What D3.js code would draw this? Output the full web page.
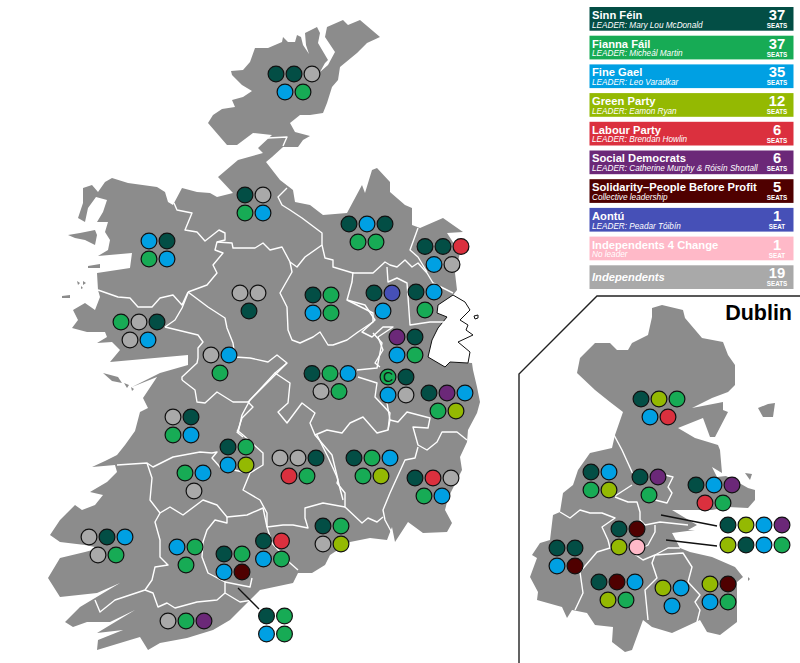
<!DOCTYPE html>
<html>
<head>
<meta charset="utf-8">
<script src="https://cdn.jsdelivr.net/npm/d3@7"></script>
<style>
html, body { margin: 0; padding: 0; background: #fff; }
text { font-family: "Liberation Sans", Arial, sans-serif; }
</style>
</head>
<body>
<div id="chart"></div>
<script>
// parties
const partyKeys = ['SF', 'FF', 'FG', 'GP', 'LAB', 'SD', 'PBP', 'AON', 'I4C', 'IND'];
const partyNames = ['Sinn Féin', 'Fianna Fáil', 'Fine Gael', 'Green Party', 'Labour Party', 'Social Democrats',
    'Solidarity–People Before Profit', 'Aontú', 'Independents 4 Change', 'Independents'];
const partyLeaders = ['LEADER: Mary Lou McDonald', 'LEADER: Micheál Martin', 'LEADER: Leo Varadkar', 'LEADER: Eamon Ryan',
    'LEADER: Brendan Howlin', 'LEADER: Catherine Murphy & Róisín Shortall', 'Collective leadership',
    'LEADER: Peadar Tóibín', 'No leader', ''];
const partySeats = [37, 37, 35, 12, 6, 6, 5, 1, 1, 19];
const partyColors = ['#034e45', '#17ab55', '#00a0e3', '#94b902', '#db303e', '#6b2878', '#4f0000', '#4650b7', '#ffb9c8', '#a9a9a9'];

// seats won per constituency
const constituencyNames = ['Donegal', 'Sligo-Leitrim', 'Cavan-Monaghan', 'Louth', 'Meath West', 'Meath East', 'Longford-Westmeath',
    'Kildare North', 'Kildare South', 'Laois-Offaly', 'Wicklow', 'Carlow-Kilkenny', 'Wexford', 'Waterford', 'Tipperary',
    'Galway West', 'Mayo', 'Roscommon-Galway', 'Galway East', 'Clare', 'Limerick City', 'Limerick County', 'Kerry',
    'Cork North-West', 'Cork North-Central', 'Cork East', 'Cork South-Central', 'Cork South-West',
    'Dublin Fingal', 'Dublin West', 'Dublin North-West', 'Dublin Bay North', 'Dublin Central', 'Dublin Bay South',
    'Dublin South-Central', 'Dublin Mid-West', 'Dublin South-West', 'Dublin Rathdown', 'Dun Laoghaire'];
const constituencySeats = [
    ['SF', 'SF', 'IND', 'FG', 'FF'], ['SF', 'IND', 'FF', 'FG'], ['SF', 'FG', 'SF', 'FF', 'FF'], ['SF', 'SF', 'LAB', 'FG', 'IND'],
    ['SF', 'AON', 'FG'], ['SF', 'FG', 'FF'], ['SF', 'FF', 'FG', 'FF'], ['SD', 'SF', 'FG', 'FF'], ['FF', 'SF', 'FG', 'IND'],
    ['SF', 'FF', 'FG', 'IND', 'FF'], ['SF', 'SD', 'FG', 'FF', 'GP'], ['SF', 'FF', 'FG', 'FF', 'GP'], ['SF', 'LAB', 'IND', 'FF', 'FG'],
    ['SF', 'FF', 'IND', 'GP'], ['IND', 'IND', 'SF', 'LAB', 'FF'], ['FF', 'IND', 'SF', 'IND', 'FG'], ['FG', 'SF', 'FF', 'FG'],
    ['IND', 'IND', 'SF'], ['IND', 'FG', 'FF'], ['IND', 'SF', 'FF', 'FG'], ['SF', 'FF', 'FG', 'GP'], ['FF', 'FG', 'IND'],
    ['IND', 'SF', 'FG', 'IND', 'FF'], ['FG', 'FF', 'FF'], ['SF', 'FF', 'FG', 'PBP'], ['SF', 'LAB', 'FG', 'FF'], ['SF', 'FF', 'FG', 'FF'],
    ['IND', 'FF', 'SD'],
    ['SF', 'GP', 'FF', 'FG', 'LAB'], ['SF', 'FG', 'FF', 'GP'], ['SF', 'SD', 'FF'], ['SF', 'FG', 'SD', 'LAB', 'FF'],
    ['SF', 'GP', 'FG', 'SD'], ['GP', 'SF', 'FG', 'FF'], ['SF', 'PBP', 'GP', 'I4C'], ['SF', 'SF', 'FG', 'PBP'],
    ['SF', 'PBP', 'FG', 'GP', 'FF'], ['GP', 'FG', 'FG'], ['GP', 'PBP', 'FG', 'FF']
];
// seats in the first row, where it is not the usual split
const singleRow = ['Dublin Central', 'Dublin Bay South', 'Cork South-West'];
const ceannComhairle = { constituency: 'Kildare South', seat: 0, mark: 'C' };

// map geometry
const groupCentres = [
    [294, 83], [254, 204], [367, 233], [443, 255.5], [383, 302], [425, 301], [322, 304], [406, 346], [397, 386], [330, 382.5],
    [447, 402], [372, 467], [433, 487], [332, 535], [298, 467], [139, 331], [158, 250], [249, 302], [220, 364], [182, 426],
    [237, 456], [194, 482], [107, 546], [186, 556], [233, 563], [272.5, 550], [275.5, 625], [186, 621],
    [659, 408], [600, 481], [649, 486], [714, 494], [755, 525], [755, 545], [628, 538], [566, 557], [617, 591], [672, 597], [719, 593]
];

const irelandOutline = [
    [208,123],[213,115],[222,109],[235,107],[232,100],[243,97],[252,91],[242,85],[232,75],[231,71],[243,70],[250,62],[255,48],[268,48],
    [282,42],[283,37],[288,42],[295,42],[297,35],[301,37],[303,45],[309,54],[306,45],[305,33],[317,27],[320,33],[318,43],[328,60],[325,63],[320,72],
    [328,65],[335,52],[325,37],[327,27],[343,20],[348,25],[360,20],[380,37],[367,43],[357,53],[340,67],[338,80],[332,87],[327,103],
    [323,113],[310,115],[300,115],[290,123],[295,132],[310,136],[303,140],[298,147],[283,147],[272,157],[266,162],[280,180],[293,190],
    [295,202],[310,205],[323,215],[347,213],[362,185],[365,193],[372,170],[377,168],[390,182],[390,192],[405,205],[412,208],[412,225],
    [420,228],[443,218],[463,232],[447,233],[460,253],[455,273],[457,290],[453,295],[445,330],[450,362],[472,363],[473,370],[477,387],
    [480,402],[477,413],[468,430],[467,442],[460,457],[462,470],[448,498],[445,510],[452,523],[447,532],[423,533],[408,522],[395,542],
    [392,527],[387,540],[370,538],[350,542],[330,555],[325,565],[312,573],[298,573],[293,583],[260,590],[253,597],[230,620],[213,630],
    [187,638],[160,643],[148,650],[140,637],[130,640],[97,650],[98,640],[123,630],[97,633],[135,610],[110,622],[87,622],[73,627],[65,622],
    [80,607],[120,583],[97,593],[60,597],[48,578],[60,558],[85,552],[100,548],[85,545],[60,542],[50,535],[60,520],[67,513],[75,505],[82,510],
    [95,505],[103,495],[90,492],[107,482],[117,472],[115,465],[92,467],[105,461],[117,455],[125,445],[135,431],[140,412],[148,408],[143,398],[157,377],
    [132,387],[160,373],[188,365],[188,355],[110,362],[120,350],[112,342],[97,343],[107,337],[105,332],[87,332],[72,328],[78,320],[73,310],
    [85,303],[95,310],[100,297],[98,290],[97,273],[130,268],[132,253],[98,256],[108,250],[110,240],[105,232],[108,222],[97,222],[103,212],
    [107,200],[96,197],[88,208],[85,222],[78,218],[83,203],[83,188],[92,185],[98,192],[105,182],[112,178],[128,183],[157,187],[165,192],
    [168,202],[173,205],[182,188],[197,192],[210,193],[217,197],[233,193],[218,177],[238,160],[263,153],[258,148],[272,135],[253,133],
    [237,145],[227,145]
];
const irelandIslands = [
    [[68,235],[80,233],[95,230],[97,235],[95,245],[85,240],[75,238]],
    [[77,281],[80,283],[78,285]], [[83,281],[86,283],[83,285]], [[81,286],[83,288],[81,289]],
    [[62,296],[70,295],[70,298],[62,298]], [[88,266],[100,264],[100,268],[88,268]],
    [[103,373],[118,377],[122,383],[112,381]], [[124,383],[129,385],[127,388]], [[131,387],[134,389],[132,391]]
];
const dublinHole = [
    [453,295],[465,302],[470,310],[460,320],[468,325],[466,330],[473,335],[458,342],[470,352],[468,363],[450,362],[445,367],[428,357],
    [432,340],[438,328],[447,317],[437,313],[438,305]
];
const dublinIslet = [[474,316],[478,315],[478,318],[475,319]];

const dublinOutline = [
    [652,308],[662,305],[683,310],[685,318],[702,338],[723,342],[728,355],[735,365],[735,385],[728,392],[712,398],[692,408],[718,403],
    [723,402],[723,410],[728,412],[715,437],[710,437],[703,418],[678,428],[695,438],[718,445],[720,450],[722,473],[712,467],[717,477],
    [726,476],[734,480],[748,488],[755,490],[755,500],[748,508],[728,507],[712,510],[672,510],[697,525],[688,530],[695,530],[672,533],[680,548],
    [690,552],[712,557],[735,567],[743,577],[737,582],[737,622],[720,635],[707,632],[700,620],[685,627],[672,633],[652,627],[643,620],
    [632,650],[625,652],[612,642],[613,627],[595,625],[587,613],[572,610],[567,618],[562,607],[537,600],[538,592],[530,577],[537,558],
    [532,555],[540,543],[550,540],[553,515],[560,512],[563,493],[573,485],[578,470],[590,453],[612,448],[615,435],[623,412],[610,402],
    [595,390],[577,373],[580,358],[595,343],[610,343],[617,350],[628,350],[632,343],[648,335],[652,317]
];
const dublinIslands = [
    [[758,408],[768,404],[775,403],[773,417],[763,417]],
    [[745,473],[752,474],[750,480]],
    [[748,577],[750,579],[748,581]]
];

const boundaries = [
    [[268,138],[287,137],[283,146]],
    [[174,203],[177,210],[192,213],[185,230],[197,232],[205,241],[219,230],[225,233],[225,240],[217,242],[215,250],[223,253],[213,265],[217,273],[207,285],[188,292]],
    [[98,290],[118,297],[130,298],[138,307],[152,307],[160,298],[173,295],[182,305],[188,292]],
    [[188,292],[208,307],[225,318],[227,328],[233,343],[235,357],[250,358],[268,362],[277,355],[287,363],[277,373],[270,380],[248,402]],
    [[217,242],[232,243],[233,248],[255,248],[263,243],[270,250],[282,247],[290,262],[297,267],[305,257],[322,245],[322,233],[302,218],[290,210],[282,205],[278,197],[287,188]],
    [[290,262],[292,272],[280,293],[287,307],[288,330],[292,340],[300,343],[313,337],[320,332],[328,345],[333,345],[347,340],[358,332],[373,322],[373,313],[347,300],[352,282],[353,272]],
    [[322,245],[325,258],[333,260],[333,267],[353,273],[373,273],[385,262],[390,265],[397,267],[405,260],[412,267],[418,263],[427,273],[433,283],[453,293]],
    [[418,228],[410,250],[418,257],[427,272]],
    [[387,267],[388,282],[397,278],[407,283],[410,325],[430,322],[445,322]],
    [[347,300],[365,305],[375,320],[362,332],[372,337],[383,327],[393,327],[378,337],[383,350],[375,363],[380,367]],
    [[357,370],[377,368],[382,343],[373,333]],
    [[358,377],[377,383],[375,397],[390,413],[388,430],[377,433],[363,417],[350,423],[342,433],[327,430],[315,435],[310,423],[315,413],[302,403],[287,423],[278,412],[288,403],[290,383],[275,373],[287,363]],
    [[275,373],[250,400],[242,415],[238,433],[243,437]],
    [[182,380],[195,390],[197,402],[205,403],[217,392],[233,402],[248,402],[253,407],[242,418],[237,433]],
    [[165,327],[198,335],[203,342],[198,348],[198,358],[197,363],[182,377],[182,380]],
    [[165,327],[175,320],[182,308],[188,293]],
    [[390,420],[398,422],[407,412],[430,418],[428,428],[413,427],[418,445],[427,450],[437,442],[442,432],[457,432],[467,440]],
    [[387,403],[390,420],[388,430]],
    [[418,447],[415,458],[405,460],[390,493],[383,510],[385,520],[392,533]],
    [[315,435],[332,455],[338,480],[337,483],[345,493],[345,507],[362,523],[368,518],[377,522],[383,517]],
    [[345,507],[323,503],[305,508],[305,518],[308,528],[293,525],[283,525],[267,527]],
    [[117,465],[147,463],[153,467],[173,457],[200,452],[212,453],[217,452],[212,458],[220,467],[243,472]],
    [[147,463],[152,478],[150,500],[160,513],[155,522],[160,540],[160,557],[168,565],[155,567],[152,580],[145,590],[115,600],[100,612],[95,600]],
    [[160,513],[170,507],[183,515],[203,500],[217,505],[227,517],[247,515],[263,508],[267,527],[272,543],[290,563],[298,570]],
    [[227,517],[227,523],[215,520],[207,530],[203,542],[202,557],[208,573],[225,582],[225,593],[240,602],[253,600]],
    [[145,590],[153,593],[158,607],[167,603],[175,608],[197,602],[217,600],[225,593]],
    [[225,582],[250,587],[252,578]],
    [[237,430],[243,435],[263,453],[263,465],[250,473],[243,490],[260,500],[267,513],[267,527]],
    [[317,435],[328,457],[337,477],[343,500]],
    // Dublin
    [[614,435],[622,450],[632,472],[634,476]],
    [[615,496],[632,485]],
    [[615,497],[628,502],[637,502],[640,512],[640,520],[645,525],[660,522],[688,525]],
    [[655,500],[667,503],[672,493],[668,487],[673,477],[665,475]],
    [[560,512],[570,518],[580,510],[590,513],[602,513],[615,518],[602,527],[608,540],[610,548],[597,552],[580,572],[583,593],[575,610]],
    [[633,553],[643,560],[655,555],[668,548],[680,548]],
    [[655,555],[652,563],[657,578],[645,590],[648,620]],
    [[655,555],[683,553],[692,567],[688,582],[700,595],[695,602],[700,610],[697,622]],
    [[655,525],[655,532],[648,545],[633,553]]
];

const leaderLines = [
    [[238,588],[259,609]],
    [[661,515],[717,526]],
    [[666,540],[717,546]]
];
const insetFrame = [[519,663],[519,374],[597,296],[800,296]];

const width = 800;
const height = 663;
const seatPitch = 18;
const seatRadius = 7.9;

const partyColor = d3.scaleOrdinal(partyKeys, partyColors);
const legendY = d3.scaleBand(partyNames, [7, 289]).paddingInner(0.174);
const ringPath = d3.line();

const svg = d3.select('#chart').append('svg')
    .attr('viewBox', `0 0 ${width} ${height}`)
    .attr('width', width)
    .attr('height', height)
    .style('display', 'block');

// land
const land = svg.append('g').attr('fill', '#8c8c8c');
land.selectAll('path')
    .data([irelandOutline, ...irelandIslands, dublinOutline, ...dublinIslands])
    .join('path')
    .attr('d', d => ringPath(d) + 'Z');

svg.append('g')
    .attr('fill', '#fff')
    .attr('stroke', '#111')
    .attr('stroke-width', 1)
    .selectAll('path')
    .data([dublinHole, dublinIslet])
    .join('path')
    .attr('d', d => ringPath(d) + 'Z');

svg.append('g')
    .attr('fill', 'none')
    .attr('stroke', '#fff')
    .attr('stroke-width', 1.4)
    .attr('stroke-linejoin', 'round')
    .selectAll('path')
    .data(boundaries)
    .join('path')
    .attr('d', ringPath);

svg.append('path')
    .attr('d', ringPath(insetFrame))
    .attr('fill', 'none')
    .attr('stroke', '#222')
    .attr('stroke-width', 1.4);

svg.append('text')
    .attr('x', 792)
    .attr('y', 320)
    .attr('text-anchor', 'end')
    .attr('font-size', 21.5)
    .attr('font-weight', 'bold')
    .attr('fill', '#000')
    .text('Dublin');

svg.append('g')
    .attr('stroke', '#111')
    .attr('stroke-width', 1.3)
    .selectAll('line')
    .data(leaderLines)
    .join('line')
    .attr('x1', d => d[0][0])
    .attr('y1', d => d[0][1])
    .attr('x2', d => d[1][0])
    .attr('y2', d => d[1][1]);

// seats
const seatData = constituencyNames.flatMap((name, i) => {
    const seats = constituencySeats[i];
    const topCount = singleRow.includes(name) ? seats.length : Math.ceil(seats.length / 2);
    const rows = seats.length > topCount ? 2 : 1;
    return seats.map((party, j) => {
        const row = j < topCount ? 0 : 1;
        const inRow = row === 0 ? topCount : seats.length - topCount;
        const col = row === 0 ? j : j - topCount;
        return {
            name, party, seat: j,
            x: groupCentres[i][0] + (col - (inRow - 1) / 2) * seatPitch,
            y: groupCentres[i][1] + (row - (rows - 1) / 2) * seatPitch
        };
    });
});

const seatNodes = svg.append('g').selectAll('g')
    .data(seatData)
    .join('g')
    .attr('transform', d => `translate(${d.x},${d.y})`);

seatNodes.append('circle')
    .attr('r', seatRadius)
    .attr('fill', d => partyColor(d.party))
    .attr('stroke', '#111')
    .attr('stroke-width', 1.2);

seatNodes.filter(d => d.name === ceannComhairle.constituency && d.seat === ceannComhairle.seat)
    .append('text')
    .attr('text-anchor', 'middle')
    .attr('y', 5)
    .attr('font-size', 14)
    .attr('fill', '#111')
    .text(ceannComhairle.mark);

seatNodes.append('title').text(d => `${d.name}: ${d.party}`);

// legend
const legend = svg.append('g').selectAll('g')
    .data(partyNames)
    .join('g')
    .attr('transform', d => `translate(589.5,${legendY(d)})`);

legend.append('rect')
    .attr('width', 204)
    .attr('height', legendY.bandwidth())
    .attr('fill', (d, i) => partyColors[i]);

legend.append('text')
    .attr('x', 2.5)
    .attr('y', (d, i) => partyLeaders[i] ? 12 : 15.7)
    .attr('font-size', 11.2)
    .attr('font-weight', 'bold')
    .attr('font-style', (d, i) => partyLeaders[i] ? 'normal' : 'italic')
    .attr('fill', '#fff')
    .text(d => d);

legend.append('text')
    .attr('x', 2.5)
    .attr('y', 20.7)
    .attr('font-size', 8.2)
    .attr('font-style', 'italic')
    .attr('fill', '#fff')
    .text((d, i) => partyLeaders[i]);

legend.append('text')
    .attr('x', 187.5)
    .attr('y', 13)
    .attr('text-anchor', 'middle')
    .attr('font-size', 14.8)
    .attr('font-weight', 'bold')
    .attr('fill', '#fff')
    .text((d, i) => partySeats[i]);

legend.append('text')
    .attr('x', 187.5)
    .attr('y', 21)
    .attr('text-anchor', 'middle')
    .attr('font-size', 6.3)
    .attr('font-weight', 'bold')
    .attr('fill', '#fff')
    .text((d, i) => partySeats[i] === 1 ? 'SEAT' : 'SEATS');
</script>
</body>
</html>
